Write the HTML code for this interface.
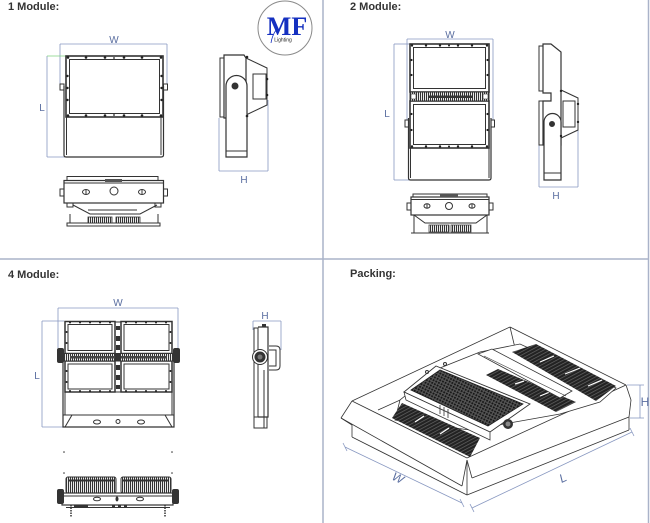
<!DOCTYPE html>
<html><head><meta charset="utf-8"><style>
html,body{margin:0;padding:0;background:#fff;}
svg{display:block;}
text{font-family:"Liberation Sans",sans-serif;}
</style></head><body>
<svg width="650" height="523" viewBox="0 0 650 523" xmlns="http://www.w3.org/2000/svg">
<defs>
<pattern id="vf" width="2" height="8" patternUnits="userSpaceOnUse"><rect width="2" height="8" fill="#fff"/><rect width="1.1" height="8" fill="#333"/></pattern>
<pattern id="mesh" width="3" height="3" patternUnits="userSpaceOnUse" patternTransform="rotate(27)"><rect width="3" height="3" fill="#555"/><rect width="1.8" height="1.8" fill="#151515"/></pattern>
<pattern id="hs" width="3" height="3" patternUnits="userSpaceOnUse" patternTransform="rotate(-28)"><rect width="3" height="3" fill="#222"/><rect width="3" height="0.7" fill="#666"/></pattern>
</defs>

<!-- grid -->
<g stroke="#aab3c9" stroke-width="1.5">
<line x1="323" y1="0" x2="323" y2="523"/>
<line x1="0" y1="259" x2="649" y2="259"/>
<line x1="648.5" y1="0" x2="648.5" y2="523"/>
</g>

<!-- headers -->
<g font-size="11" font-weight="bold" fill="#333">
<text x="8" y="10">1 Module:</text>
<text x="350" y="10">2 Module:</text>
<text x="8" y="278">4 Module:</text>
<text x="350" y="277">Packing:</text>
</g>

<!-- logo -->
<circle cx="285" cy="28" r="27" fill="#fff" stroke="#8a8a8a" stroke-width="1"/>
<text x="287" y="35" font-size="26" font-weight="bold" fill="#1530c0" text-anchor="middle" style="font-family:'Liberation Serif',serif">MF</text>
<path d="M271,43 Q272,36 276,30" stroke="#1530c0" stroke-width="0.8" fill="none"/>
<text x="283" y="41.5" font-size="5" fill="#222" text-anchor="middle">Lighting</text>

<!-- ========== 1 MODULE ========== -->
<g stroke="#8797c0" stroke-width="0.8" fill="none">
<line x1="60" y1="44" x2="167" y2="44"/>
<line x1="60" y1="44" x2="60" y2="84"/>
<line x1="167" y1="44" x2="167" y2="84"/>
<line x1="47" y1="56" x2="47" y2="157"/>
<line x1="47" y1="157" x2="66" y2="157"/>
<line x1="219" y1="171" x2="268" y2="171"/>
<line x1="219" y1="118" x2="219" y2="171"/>
<line x1="268" y1="100" x2="268" y2="171"/>
</g>
<line x1="47" y1="56" x2="66" y2="56" stroke="#7fd07f" stroke-width="0.8"/>
<g font-size="10" fill="#5a6ea0" text-anchor="middle">
<text x="114" y="43">W</text>
<text x="42" y="111">L</text>
<text x="244" y="183">H</text>
</g>
<g stroke="#333" fill="none" stroke-width="1">
<rect x="66" y="56" width="97" height="61" stroke-width="1.6"/>
<rect x="69.5" y="59.5" width="90" height="54"/>
<path d="M64,86 V155 Q64,157 66,157 H161 Q163.5,157 163.5,155 V86" stroke-width="1.2"/>
<line x1="66.5" y1="117" x2="66.5" y2="155"/>
<line x1="161" y1="117" x2="161" y2="155"/>
<rect x="60" y="84" width="4" height="6"/>
<rect x="163.5" y="84" width="4" height="6"/>
</g>
<g fill="#222">
<circle cx="68" cy="57.5" r="1.3"/><circle cx="86" cy="57.5" r="1.3"/><circle cx="105" cy="57.5" r="1.3"/><circle cx="114" cy="58" r="0.9"/><circle cx="124" cy="57.5" r="1.3"/><circle cx="142" cy="57.5" r="1.3"/><circle cx="161" cy="57.5" r="1.3"/>
<circle cx="68" cy="115.5" r="1.3"/><circle cx="86" cy="115.5" r="1.3"/><circle cx="105" cy="115.5" r="1.3"/><circle cx="114" cy="115" r="0.9"/><circle cx="124" cy="115.5" r="1.3"/><circle cx="142" cy="115.5" r="1.3"/><circle cx="161" cy="115.5" r="1.3"/>
<circle cx="67.5" cy="76" r="1.2"/><circle cx="67.5" cy="88" r="1.2"/><circle cx="67.5" cy="100" r="1.2"/>
<circle cx="161.5" cy="76" r="1.2"/><circle cx="161.5" cy="88" r="1.2"/><circle cx="161.5" cy="100" r="1.2"/>
</g>
<!-- 1M side -->
<g stroke="#333" fill="none" stroke-width="1">
<rect x="220" y="58" width="4" height="59"/>
<path d="M224,55 H244 L246,58 V115 L244,118 H224 Z" stroke-width="1.2"/>
<path d="M246,58 L267,68 V105 L246,115"/>
<rect x="253" y="74" width="13" height="25"/>
<path d="M226,157 V86 A10.5,10.5 0 0 1 247,86 V157 Z" fill="#fff" stroke-width="1.2"/>
<line x1="226" y1="151" x2="247" y2="151"/>
<circle cx="235" cy="86" r="3" fill="#333"/>
</g>
<g fill="#222"><circle cx="247" cy="57" r="1.3"/><circle cx="247" cy="116" r="1.3"/><circle cx="267" cy="79" r="1.3"/><circle cx="267" cy="95" r="1.3"/></g>
<!-- 1M bottom -->
<g stroke="#333" fill="none" stroke-width="1">
<rect x="67" y="176.5" width="91" height="4"/>
<rect x="64" y="180.5" width="99.5" height="22.5" stroke-width="1.2"/>
<line x1="64" y1="183" x2="163.5" y2="183"/>
<rect x="60" y="189" width="4" height="7"/>
<rect x="163.5" y="189" width="4" height="7"/>
<ellipse cx="86" cy="192" rx="3.5" ry="2.5"/><line x1="86" y1="189.5" x2="86" y2="194.5"/>
<circle cx="114" cy="191" r="4"/>
<ellipse cx="142" cy="192" rx="3.5" ry="2.5"/><line x1="142" y1="189.5" x2="142" y2="194.5"/>
<rect x="67" y="203" width="6" height="4"/>
<rect x="155" y="203" width="6" height="4"/>
<path d="M73,205 L90,214 H140 L157,205"/>
<line x1="88" y1="210" x2="137" y2="210"/>
<rect x="67" y="223" width="93" height="3"/>
<line x1="70" y1="214" x2="70" y2="223"/><line x1="158" y1="214" x2="158" y2="223"/>
</g>
<rect x="105" y="179" width="17" height="3" fill="#555"/>
<rect x="88" y="217" width="24" height="6" fill="url(#vf)" stroke="#333" stroke-width="0.8"/>
<rect x="116" y="217" width="24" height="6" fill="url(#vf)" stroke="#333" stroke-width="0.8"/>

<!-- ========== 2 MODULE ========== -->
<g stroke="#8797c0" stroke-width="0.8" fill="none">
<line x1="407" y1="39" x2="493" y2="39"/>
<line x1="407" y1="39" x2="407" y2="120"/>
<line x1="493" y1="39" x2="493" y2="120"/>
<line x1="394" y1="44" x2="394" y2="180"/>
<line x1="394" y1="44" x2="410" y2="44"/>
<line x1="394" y1="180" x2="410" y2="180"/>
<line x1="539" y1="187" x2="578" y2="187"/>
<line x1="539" y1="145" x2="539" y2="187"/>
<line x1="578" y1="130" x2="578" y2="187"/>
</g>
<g font-size="10" fill="#5a6ea0" text-anchor="middle">
<text x="450" y="38">W</text>
<text x="387" y="117">L</text>
<text x="556" y="199">H</text>
</g>
<g stroke="#333" fill="none" stroke-width="1">
<rect x="410" y="44" width="79" height="48" stroke-width="1.6"/>
<rect x="413.5" y="47.5" width="72" height="41"/>
<rect x="410" y="101" width="79" height="47" stroke-width="1.6"/>
<rect x="413.5" y="104.5" width="72" height="40"/>
<path d="M408.5,118 V178 Q408.5,180 410.5,180 H489 Q491,180 491,178 V118" stroke-width="1.2"/>
<line x1="410.5" y1="148" x2="410.5" y2="178"/>
<line x1="489" y1="148" x2="489" y2="178"/>
<rect x="405" y="120" width="3.5" height="7"/>
<rect x="491" y="120" width="3.5" height="7"/>
</g>
<rect x="410" y="92" width="79" height="9" fill="url(#vf)" stroke="#333" stroke-width="1"/>
<rect x="428" y="95.5" width="44" height="2.5" fill="#333"/>
<rect x="411" y="94" width="5" height="5" fill="#fff" stroke="#333" stroke-width="0.6"/>
<rect x="483" y="94" width="5" height="5" fill="#fff" stroke="#333" stroke-width="0.6"/>
<g fill="#222">
<circle cx="412" cy="45.5" r="1.2"/><circle cx="426" cy="45.5" r="1.2"/><circle cx="440" cy="45.5" r="1.2"/><circle cx="449" cy="45.5" r="1"/><circle cx="458" cy="45.5" r="1.2"/><circle cx="472" cy="45.5" r="1.2"/><circle cx="487" cy="45.5" r="1.2"/>
<circle cx="412" cy="146.5" r="1.2"/><circle cx="426" cy="146.5" r="1.2"/><circle cx="440" cy="146.5" r="1.2"/><circle cx="449" cy="146.5" r="1"/><circle cx="458" cy="146.5" r="1.2"/><circle cx="472" cy="146.5" r="1.2"/><circle cx="487" cy="146.5" r="1.2"/>
<circle cx="411.5" cy="60" r="1.1"/><circle cx="411.5" cy="75" r="1.1"/><circle cx="411.5" cy="114" r="1.1"/><circle cx="411.5" cy="130" r="1.1"/>
<circle cx="487.5" cy="60" r="1.1"/><circle cx="487.5" cy="75" r="1.1"/><circle cx="487.5" cy="114" r="1.1"/><circle cx="487.5" cy="130" r="1.1"/>
</g>
<!-- 2M side -->
<g stroke="#333" fill="none" stroke-width="1">
<rect x="539" y="46" width="4" height="45"/>
<rect x="539" y="101" width="4" height="44"/>
<path d="M543,44 L551,44 L561,52 L561,145 L543,145 L543,101 L551,101 L551,93 L543,93 Z" stroke-width="1.2"/>
<path d="M561,90 L578,98 V130 L561,138"/>
<rect x="563" y="101" width="12" height="26"/>
<path d="M544,180 V122 A8.5,8.5 0 0 1 561,122 V180 Z" fill="#fff" stroke-width="1.2"/>
<line x1="544" y1="173" x2="561" y2="173"/>
<circle cx="552" cy="124" r="2.5" fill="#333"/>
</g>
<g fill="#222"><circle cx="561" cy="91" r="1.2"/><circle cx="561" cy="136" r="1.2"/><circle cx="578" cy="104" r="1.2"/><circle cx="578" cy="122" r="1.2"/></g>
<!-- 2M bottom -->
<g stroke="#333" fill="none" stroke-width="1">
<rect x="413" y="194" width="74" height="3"/>
<rect x="411" y="197" width="78" height="18" stroke-width="1.2"/>
<line x1="411" y1="199.5" x2="489" y2="199.5"/>
<rect x="407" y="203" width="4" height="7"/>
<rect x="489" y="203" width="4" height="7"/>
<ellipse cx="427" cy="206" rx="3" ry="2.2"/><line x1="427" y1="204" x2="427" y2="208"/>
<circle cx="449" cy="206" r="3.5"/>
<ellipse cx="472" cy="206" rx="3" ry="2.2"/><line x1="472" y1="204" x2="472" y2="208"/>
<path d="M414,215 L425,223 H476 L487,215"/>
<line x1="411" y1="233" x2="489" y2="233"/>
<line x1="414" y1="215" x2="414" y2="233"/><line x1="487" y1="215" x2="487" y2="233"/>
</g>
<rect x="440" y="194" width="18" height="3" fill="#555"/>
<rect x="429" y="225" width="20" height="7" fill="url(#vf)" stroke="#444" stroke-width="0.8"/>
<rect x="451" y="225" width="20" height="7" fill="url(#vf)" stroke="#444" stroke-width="0.8"/>

<!-- ========== 4 MODULE ========== -->
<g stroke="#8797c0" stroke-width="0.8" fill="none">
<line x1="58" y1="308" x2="178" y2="308"/>
<line x1="58" y1="308" x2="58" y2="348"/>
<line x1="178" y1="308" x2="178" y2="348"/>
<line x1="42" y1="321" x2="42" y2="427"/>
<line x1="42" y1="321" x2="64" y2="321"/>
<line x1="42" y1="427" x2="64" y2="427"/>
<line x1="253" y1="321" x2="281" y2="321"/>
<line x1="253" y1="321" x2="253" y2="330"/>
<line x1="281" y1="321" x2="281" y2="350"/>
</g>
<g font-size="10" fill="#5a6ea0" text-anchor="middle">
<text x="118" y="306">W</text>
<text x="37" y="379">L</text>
<text x="265" y="319">H</text>
</g>
<g stroke="#333" fill="none" stroke-width="1">
<rect x="65" y="321.5" width="50" height="32" stroke-width="1.5"/>
<rect x="68" y="324.5" width="44" height="26"/>
<rect x="121" y="321.5" width="51" height="32" stroke-width="1.5"/>
<rect x="124" y="324.5" width="45" height="26"/>
<rect x="65" y="361" width="50" height="31" stroke-width="1.5"/>
<rect x="68" y="364" width="44" height="25"/>
<rect x="121" y="361" width="51" height="31" stroke-width="1.5"/>
<rect x="124" y="364" width="45" height="25"/>
<path d="M63,362 V427 H174 V362" stroke-width="1.2"/>
<line x1="65" y1="392" x2="65" y2="415"/><line x1="172" y1="392" x2="172" y2="415"/>
<path d="M63,415 H174 M72,415 L65,427 M165,415 L172,427"/>
<ellipse cx="97" cy="422" rx="3.5" ry="2"/>
<circle cx="118" cy="421.5" r="2"/>
<ellipse cx="141" cy="422" rx="3.5" ry="2"/>
<rect x="115" y="322" width="6" height="70"/>
</g>
<rect x="64" y="353.5" width="109" height="7.5" fill="url(#vf)" stroke="#333" stroke-width="1"/>
<rect x="70" y="356" width="97" height="2.5" fill="#444"/>
<g fill="#333">
<rect x="116" y="326" width="4" height="4"/><rect x="116" y="336" width="4" height="5"/><rect x="116" y="345" width="4" height="5"/><rect x="115" y="354" width="6" height="7"/><rect x="116" y="365" width="4" height="5"/><rect x="116" y="375" width="4" height="5"/><rect x="116" y="385" width="4" height="4"/>
<rect x="57" y="348" width="7" height="15" rx="2"/>
<rect x="173" y="348" width="7" height="15" rx="2"/>
</g>
<g fill="#222">
<circle cx="70" cy="322.5" r="1"/><circle cx="80" cy="322.5" r="1"/><circle cx="90" cy="322.5" r="1"/><circle cx="100" cy="322.5" r="1"/><circle cx="110" cy="322.5" r="1"/>
<circle cx="126" cy="322.5" r="1"/><circle cx="136" cy="322.5" r="1"/><circle cx="146" cy="322.5" r="1"/><circle cx="156" cy="322.5" r="1"/><circle cx="166" cy="322.5" r="1"/>
<circle cx="70" cy="391" r="1"/><circle cx="80" cy="391" r="1"/><circle cx="90" cy="391" r="1"/><circle cx="100" cy="391" r="1"/><circle cx="110" cy="391" r="1"/>
<circle cx="126" cy="391" r="1"/><circle cx="136" cy="391" r="1"/><circle cx="146" cy="391" r="1"/><circle cx="156" cy="391" r="1"/><circle cx="166" cy="391" r="1"/>
<circle cx="66.5" cy="332" r="1"/><circle cx="66.5" cy="343" r="1"/><circle cx="66.5" cy="371" r="1"/><circle cx="66.5" cy="382" r="1"/>
<circle cx="170.5" cy="332" r="1"/><circle cx="170.5" cy="343" r="1"/><circle cx="170.5" cy="371" r="1"/><circle cx="170.5" cy="382" r="1"/>
</g>
<!-- 4M side -->
<g stroke="#333" fill="none" stroke-width="1">
<rect x="254" y="328" width="4" height="89"/>
<path d="M258,327 H268 V417 H258" stroke-width="1.2"/>
<path d="M264,370 V428"/>
<rect x="254" y="417" width="13" height="11"/>
<path d="M269,346 H276 Q280,346 280,350 V366 Q280,370 276,370 H269"/>
<path d="M269,350 H276 V366 H269"/>
<circle cx="260" cy="357" r="7.5" fill="#fff"/>
</g>
<circle cx="260" cy="357" r="5.5" fill="#333"/>
<circle cx="260" cy="357" r="2.5" fill="#777"/>
<rect x="262" y="324" width="4" height="3" fill="#333"/>
<!-- 4M bottom -->
<g fill="#333">
<circle cx="64" cy="452" r="0.8"/><circle cx="172" cy="452" r="0.8"/>
<circle cx="64" cy="473" r="0.8"/><circle cx="172" cy="473" r="0.8"/>
</g>
<rect x="66" y="477" width="50" height="16" rx="2" fill="url(#vf)" stroke="#333" stroke-width="1"/>
<rect x="121" y="477" width="50" height="16" rx="2" fill="url(#vf)" stroke="#333" stroke-width="1"/>
<rect x="68" y="479.5" width="46" height="2" fill="#333"/>
<rect x="123" y="479.5" width="46" height="2" fill="#333"/>
<g stroke="#333" fill="none" stroke-width="1">
<rect x="62" y="493" width="111" height="12" stroke-width="1.2"/>
<line x1="62" y1="496" x2="173" y2="496"/>
<ellipse cx="97" cy="499" rx="3.5" ry="1.8"/>
<ellipse cx="140" cy="499" rx="3.5" ry="1.8"/>
<line x1="66" y1="507.5" x2="170" y2="507.5"/>
</g>
<ellipse cx="117" cy="499" rx="1.5" ry="2.5" fill="#333"/>
<rect x="57" y="489" width="7" height="15" rx="2" fill="#333"/>
<rect x="172" y="489" width="7" height="15" rx="2" fill="#333"/>
<rect x="74" y="505" width="14" height="2.5" fill="#333"/>
<rect x="112" y="505" width="3" height="3" fill="#333"/><rect x="118" y="505" width="3" height="3" fill="#333"/><rect x="124" y="505" width="3" height="3" fill="#333"/>
<g stroke="#333" stroke-width="1.5"><line x1="71" y1="505" x2="71" y2="517" stroke-dasharray="1.5,1"/><line x1="165" y1="505" x2="165" y2="517" stroke-dasharray="1.5,1"/></g>

<!-- ========== PACKING ========== -->
<g stroke="#333" fill="none" stroke-width="0.8">
<line x1="510" y1="327" x2="352" y2="401"/>
<line x1="510" y1="327" x2="626" y2="385"/>
<line x1="352" y1="401" x2="341" y2="418"/>
<line x1="341" y1="418" x2="352" y2="425"/>
<line x1="352" y1="425" x2="352" y2="437"/>
<line x1="352" y1="401" x2="467" y2="458"/>
<line x1="467" y1="458" x2="626" y2="385"/>
<line x1="341" y1="418" x2="462" y2="486"/>
<line x1="462" y1="486" x2="467" y2="460"/>
<line x1="352" y1="437" x2="467" y2="495"/>
<line x1="467" y1="462" x2="467" y2="495"/>
<line x1="472" y1="478" x2="467" y2="460"/>
<line x1="472" y1="478" x2="629" y2="417"/>
<line x1="626" y1="385" x2="631" y2="400"/>
<line x1="631" y1="400" x2="629" y2="417"/>
<line x1="629" y1="417" x2="629" y2="430"/>
<line x1="467" y1="495" x2="629" y2="430"/>
<line x1="510" y1="327" x2="515" y2="348"/>
<line x1="515" y1="348" x2="378" y2="410"/>
<line x1="515" y1="348" x2="608" y2="393"/>
</g>
<!-- fixture -->
<polygon points="480,352 520,344 616,388 600,402 560,414 470,430 395,420 400,400 440,368" fill="#fff" stroke="#333" stroke-width="0.8"/>
<polygon points="512,352 536,344 616,386 596,401" fill="url(#hs)"/>
<polygon points="486,375 498,369 576,402 556,412" fill="url(#hs)"/>
<polygon points="392,418 402,403 480,438 470,457" fill="url(#hs)"/>
<g stroke="#fff" stroke-width="1.2">
<line x1="540" y1="362" x2="554" y2="356"/><line x1="565" y1="374" x2="580" y2="368"/><line x1="588" y1="386" x2="602" y2="380"/>
<line x1="515" y1="384" x2="524" y2="381"/><line x1="540" y1="396" x2="550" y2="392"/>
<line x1="415" y1="422" x2="424" y2="416"/><line x1="440" y1="434" x2="449" y2="428"/>
</g>
<polygon points="478,354 492,349 572,391 560,398" fill="#fff" stroke="#333" stroke-width="0.8"/>
<line x1="484" y1="356" x2="566" y2="396" stroke="#333" stroke-width="0.6"/>
<polygon points="404,392 436,366 530,404 490,432" fill="#fff" stroke="#333" stroke-width="0.9"/>
<polygon points="411,390 440,370 523,404 488,426" fill="url(#mesh)" stroke="#222" stroke-width="0.8"/>
<polygon points="404,392 490,432 490,440 406,400" fill="#fff" stroke="#333" stroke-width="0.8"/>
<g stroke="#333" stroke-width="0.8"><line x1="440" y1="405" x2="440" y2="414"/><line x1="444" y1="407" x2="444" y2="416"/><line x1="448" y1="409" x2="448" y2="418"/></g>
<circle cx="508" cy="424" r="5" fill="#333"/>
<circle cx="508" cy="424" r="2.5" fill="#888"/>
<circle cx="427" cy="372" r="1.5" fill="none" stroke="#333"/>
<circle cx="445" cy="364" r="1.5" fill="none" stroke="#333"/>
<!-- packing dims -->
<g stroke="#8797c0" stroke-width="0.8" fill="none">
<line x1="345" y1="447" x2="462" y2="503"/>
<line x1="343" y1="443" x2="347" y2="451"/>
<line x1="460" y1="499" x2="464" y2="507"/>
<line x1="472" y1="508" x2="632" y2="432"/>
<line x1="470" y1="504" x2="474" y2="512"/>
<line x1="630" y1="428" x2="634" y2="436"/>
<line x1="640" y1="385" x2="640" y2="418"/>
<line x1="627" y1="385" x2="644" y2="385"/>
<line x1="630" y1="418" x2="644" y2="418"/>
</g>
<g font-size="12" fill="#5a6ea0" text-anchor="middle">
<text x="398" y="482" transform="rotate(25 398 478)" font-style="italic">W</text>
<text x="563" y="482" transform="rotate(-25 563 478)" font-style="italic">L</text>
<text x="645" y="406">H</text>
</g>
</svg>
</body></html>
